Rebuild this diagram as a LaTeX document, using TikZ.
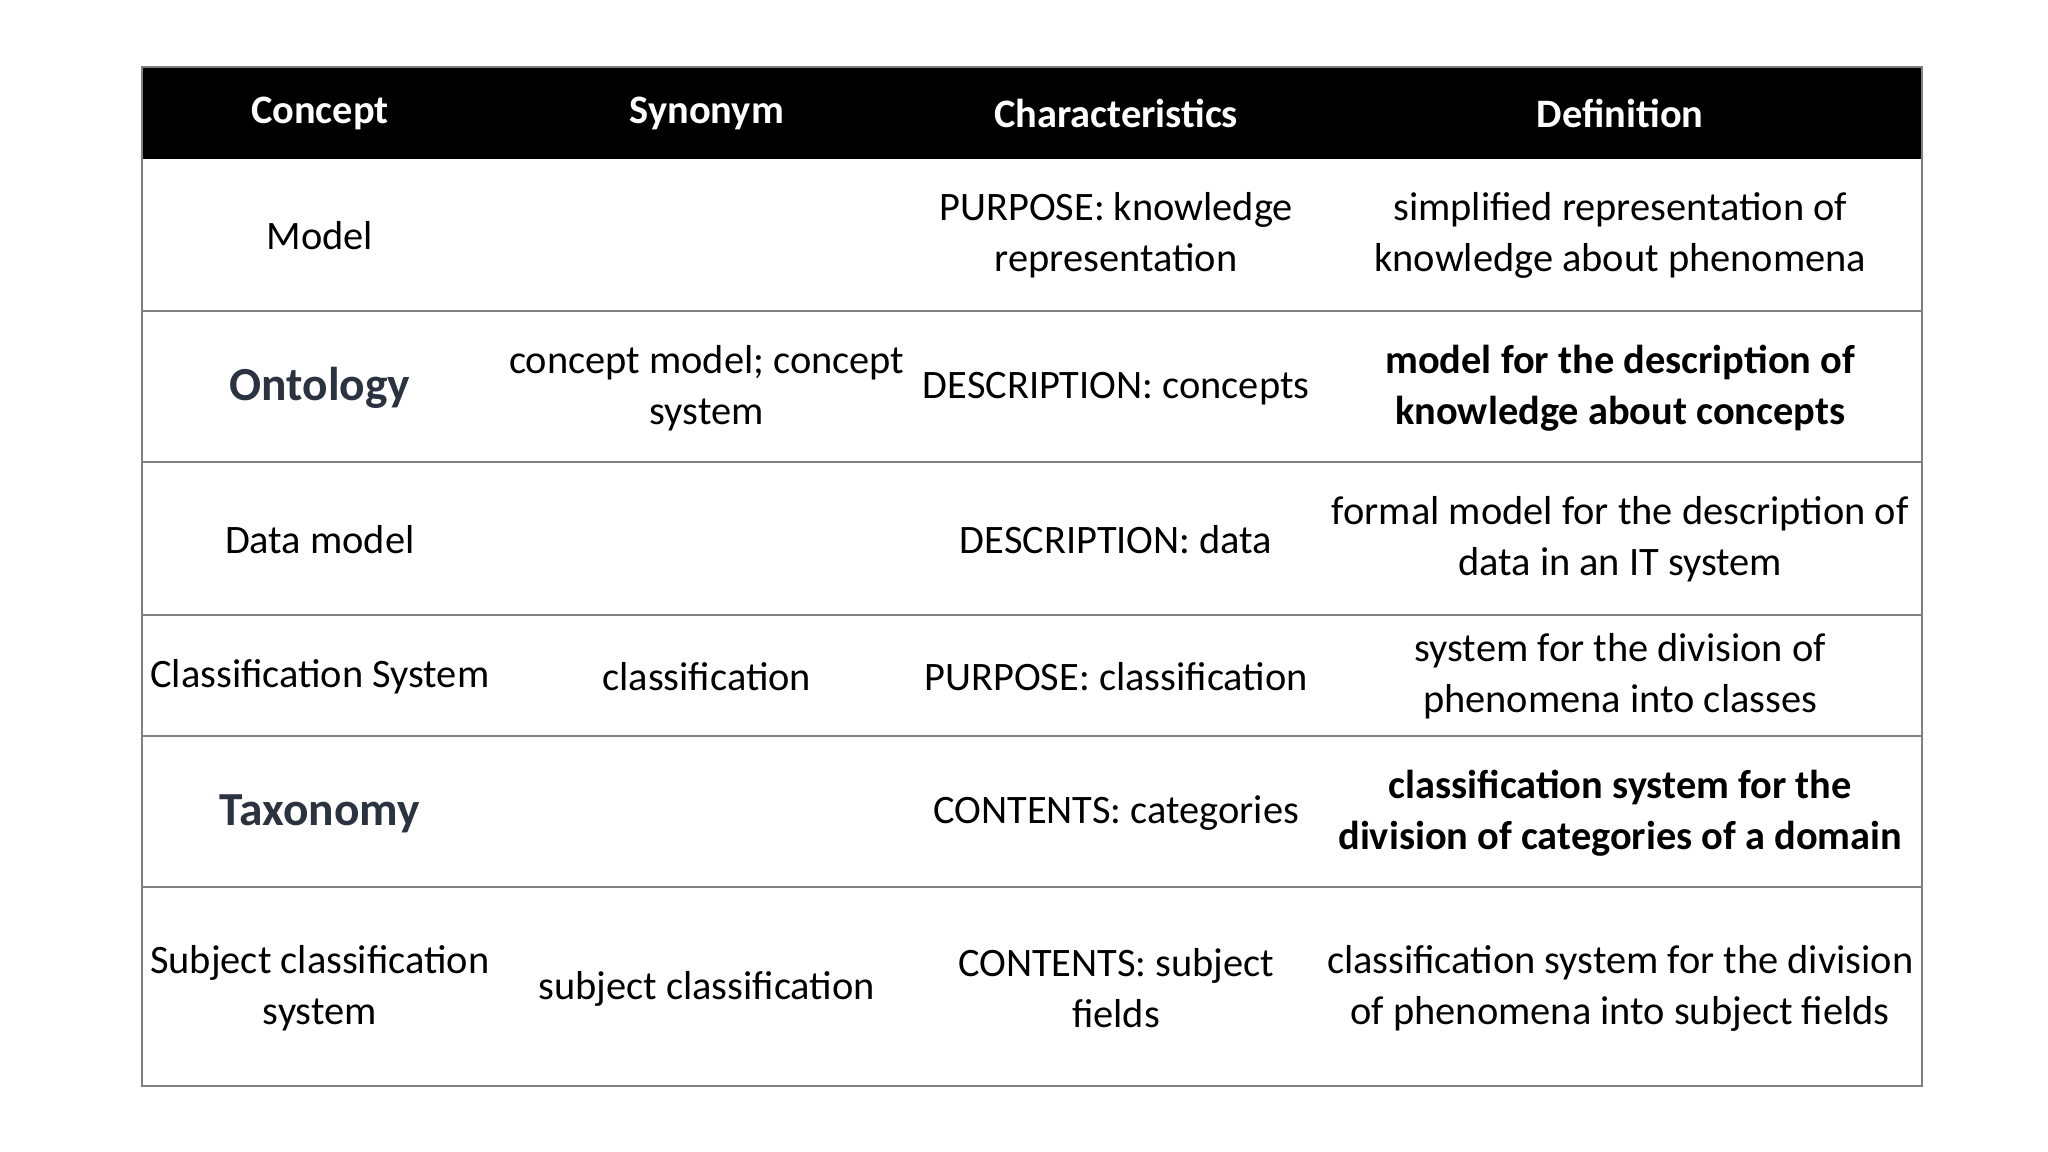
\documentclass[tikz,border=0pt]{standalone}
\usepackage{fontspec}
\setmainfont{Carlito}
\definecolor{slate}{HTML}{2B3340}
\definecolor{rule}{HTML}{7F7F7F}
\begin{document}
\begin{tikzpicture}[x=0.013162cm,y=-0.013162cm,
  cell/.style={align=center,font=\fontsize{11.5}{14.5}\selectfont,text=black},
  hd/.style={align=center,font=\fontsize{11.5}{14.5}\selectfont\bfseries,text=white},
  big/.style={align=center,font=\fontsize{13.5}{16}\selectfont\bfseries,text=slate},
  bd/.style={align=center,font=\fontsize{11.5}{14.5}\selectfont\bfseries,text=black},
  hline/.style={draw=rule,line width=0.5pt}]
\useasboundingbox (0,0) rectangle (1556,875);
\fill[black] (108,51) rectangle (1460,121);
\foreach \y in {236,351,467,559,674} \draw[hline] (108,\y) -- (1460,\y);
\draw[rule,line width=0.6pt] (108,51) rectangle (1460,825);
\node[hd] (h1) at (243,86) {Concept};
\node[hd] (h2) at (537,86) {Synonym};
\node[hd] (h3) at (848,86) {Characteristics};
\node[hd] (h4) at (1231,86) {Definition};
% row 1
\node[cell] (a1) at (243,179) {Model};
\node[cell] (c1) at (848,179) {PURPOSE: knowledge\\representation};
\node[cell] (d1) at (1231,179) {simplified representation of\\knowledge about phenomena};
% row 2
\node[big] (a2) at (243,295) {Ontology};
\node[cell] (b2) at (537,295) {concept model; concept\\system};
\node[cell] (c2) at (848,295) {DESCRIPTION: concepts};
\node[bd] (d2) at (1231,295) {model for the description of\\knowledge about concepts};
% row 3
\node[cell] (a3) at (243,410) {Data model};
\node[cell] (c3) at (848,410) {DESCRIPTION: data};
\node[cell] (d3) at (1231,410) {formal model for the description of\\data in an IT system};
% row 4
\node[cell] (a4) at (243,514) {Classification System};
\node[cell] (b4) at (537,514) {classification};
\node[cell] (c4) at (848,514) {PURPOSE: classification};
\node[cell] (d4) at (1231,514) {system for the division of\\phenomena into classes};
% row 5
\node[big] (a5) at (243,618) {Taxonomy};
\node[cell] (c5) at (848,618) {CONTENTS: categories};
\node[bd] (d5) at (1231,618) {classification system for the\\division of categories of a domain};
% row 6
\node[cell] (a6) at (243,751) {Subject classification\\system};
\node[cell] (b6) at (537,751) {subject classification};
\node[cell] (c6) at (848,751) {CONTENTS: subject\\fields};
\node[cell] (d6) at (1231,751) {classification system for the division\\of phenomena into subject fields};
\end{tikzpicture}
\end{document}
